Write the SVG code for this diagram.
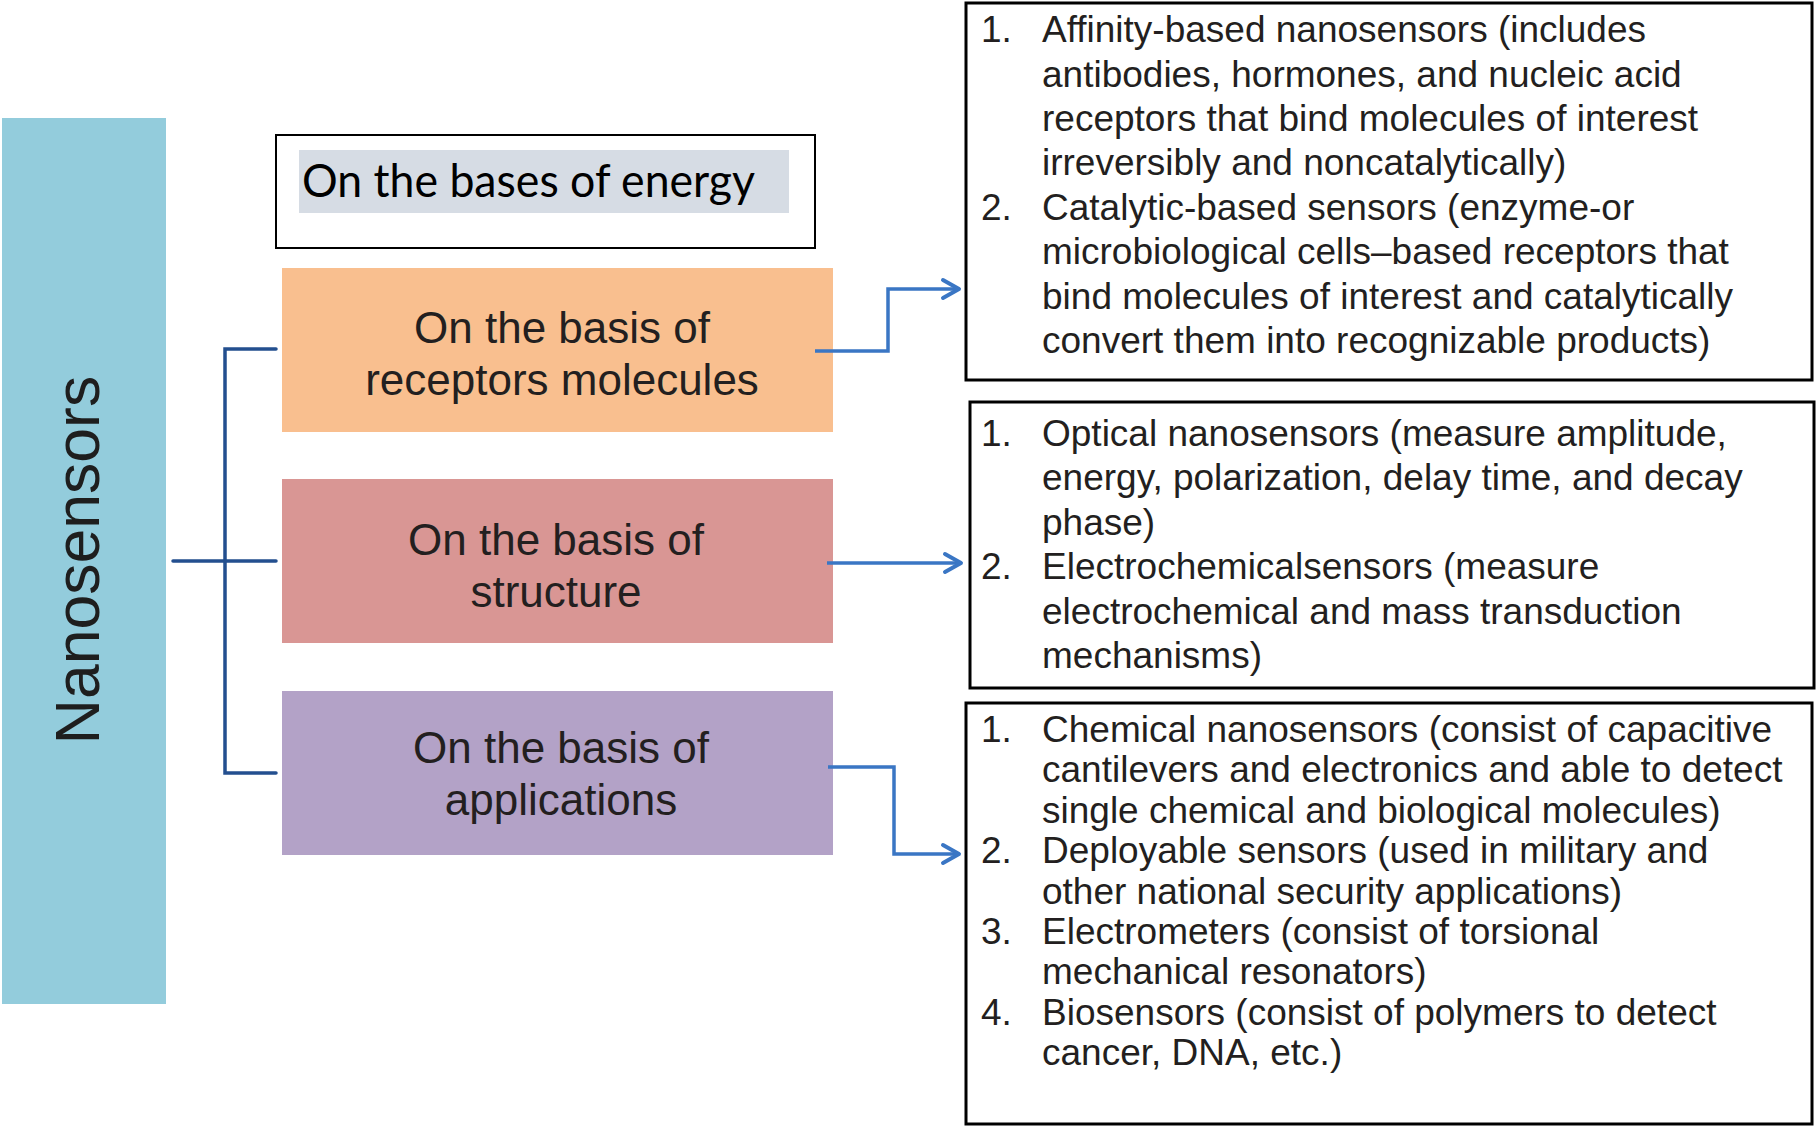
<svg xmlns="http://www.w3.org/2000/svg" width="1820" height="1128" viewBox="0 0 1820 1128">
<defs>
<style>
.bg{fill:#ffffff}
.lbl{font-family:"Liberation Sans",Arial,sans-serif;font-size:44px;fill:#231f20;text-anchor:middle}
.item{font-family:"Liberation Sans",Arial,sans-serif;font-size:37px;fill:#231f20}
.box{fill:#ffffff;stroke:#000000;stroke-width:3}
.brk{fill:none;stroke:#234f8f;stroke-width:3.5;stroke-linecap:round;stroke-linejoin:miter}
.arr{fill:none;stroke:#3a76c4;stroke-width:3.5;stroke-linejoin:miter}
</style>
<marker id="ah" markerUnits="userSpaceOnUse" markerWidth="26" markerHeight="26" viewBox="-20 -13 26 26" refX="0" refY="0" orient="auto">
<path d="M-16,-9 L0,0 L-16,9" fill="none" stroke="#3a76c4" stroke-width="4" stroke-linecap="round" stroke-linejoin="round"/>
</marker>
</defs>
<rect class="bg" x="0" y="0" width="1820" height="1128"/>

<g id="node-nanosensors">
<rect x="2" y="118" width="164" height="886" fill="#93ccdc"/>
<text transform="translate(99,560) rotate(-90)" x="0" y="0" style="font-family:'Liberation Sans',Arial,sans-serif;font-size:62.5px;fill:#1e1e1e;text-anchor:middle">Nanosensors</text>
</g>

<g id="node-energy">
<rect x="276" y="135" width="539" height="113" fill="#ffffff" stroke="#000000" stroke-width="2"/>
<rect x="299" y="150" width="490" height="63" fill="#d6dce4"/>
<text x="302" y="197" textLength="453" lengthAdjust="spacingAndGlyphs" style="font-family:Lato,'Liberation Sans',sans-serif;font-size:47px;fill:#000000">On the bases of energy</text>
</g>

<g id="node-receptors">
<rect x="282" y="268" width="551" height="164" fill="#f9bf8f"/>
<text class="lbl" x="562" y="343">On the basis of</text>
<text class="lbl" x="562" y="395">receptors molecules</text>
</g>

<g id="node-structure">
<rect x="282" y="479" width="551" height="164" fill="#d99694"/>
<text class="lbl" x="556" y="555">On the basis of</text>
<text class="lbl" x="556" y="607">structure</text>
</g>

<g id="node-applications">
<rect x="282" y="691" width="551" height="164" fill="#b3a2c7"/>
<text class="lbl" x="561" y="763">On the basis of</text>
<text class="lbl" x="561" y="815">applications</text>
</g>

<g id="node-list-receptors">
<rect class="box" x="966" y="3" width="846" height="377"/>
<text class="item" x="981" y="42">1.</text>
<text class="item" x="1042" y="42">Affinity-based nanosensors (includes</text>
<text class="item" x="1042" y="87">antibodies, hormones, and nucleic acid</text>
<text class="item" x="1042" y="131">receptors that bind molecules of interest</text>
<text class="item" x="1042" y="175">irreversibly and noncatalytically)</text>
<text class="item" x="981" y="220">2.</text>
<text class="item" x="1042" y="220">Catalytic-based sensors (enzyme-or</text>
<text class="item" x="1042" y="264">microbiological cells–based receptors that</text>
<text class="item" x="1042" y="309">bind molecules of interest and catalytically</text>
<text class="item" x="1042" y="353">convert them into recognizable products)</text>
</g>

<g id="node-list-structure">
<rect class="box" x="970" y="402" width="844" height="286"/>
<text class="item" x="981" y="446">1.</text>
<text class="item" x="1042" y="446">Optical nanosensors (measure amplitude,</text>
<text class="item" x="1042" y="490">energy, polarization, delay time, and decay</text>
<text class="item" x="1042" y="535">phase)</text>
<text class="item" x="981" y="579">2.</text>
<text class="item" x="1042" y="579">Electrochemicalsensors (measure</text>
<text class="item" x="1042" y="624">electrochemical and mass transduction</text>
<text class="item" x="1042" y="668">mechanisms)</text>
</g>

<g id="node-list-applications">
<rect class="box" x="966" y="703" width="846" height="421"/>
<text class="item" x="981" y="742">1.</text>
<text class="item" x="1042" y="742">Chemical nanosensors (consist of capacitive</text>
<text class="item" x="1042" y="782">cantilevers and electronics and able to detect</text>
<text class="item" x="1042" y="823">single chemical and biological molecules)</text>
<text class="item" x="981" y="863">2.</text>
<text class="item" x="1042" y="863">Deployable sensors (used in military and</text>
<text class="item" x="1042" y="904">other national security applications)</text>
<text class="item" x="981" y="944">3.</text>
<text class="item" x="1042" y="944">Electrometers (consist of torsional</text>
<text class="item" x="1042" y="984">mechanical resonators)</text>
<text class="item" x="981" y="1025">4.</text>
<text class="item" x="1042" y="1025">Biosensors (consist of polymers to detect</text>
<text class="item" x="1042" y="1065">cancer, DNA, etc.)</text>
</g>

<g id="connectors">
<path class="brk" d="M276,349 H225 V773 H276"/>
<path class="brk" d="M173,561 H276"/>
<path class="arr" d="M815,351 H888 V289 H959" marker-end="url(#ah)"/>
<path class="arr" d="M827,563 H961" marker-end="url(#ah)"/>
<path class="arr" d="M828,767 H894 V854 H959" marker-end="url(#ah)"/>
</g>
</svg>
